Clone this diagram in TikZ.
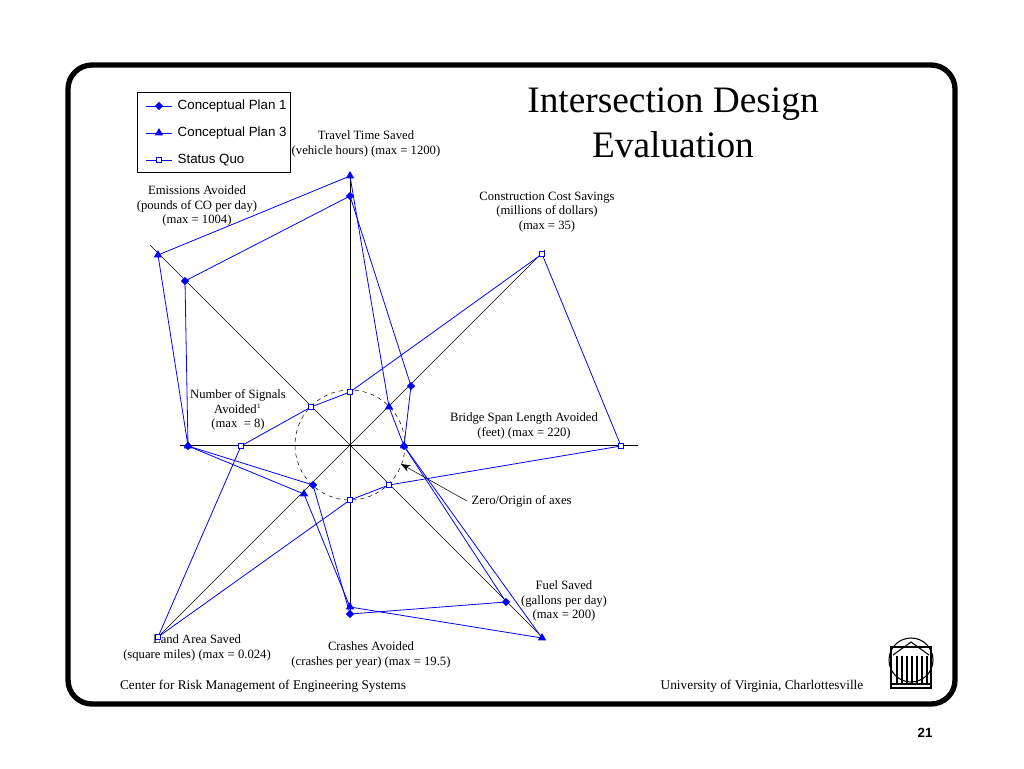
\documentclass[tikz,border=0pt]{standalone}
\usepackage{fontspec}
\setmainfont{Liberation Serif}
\setsansfont{Liberation Sans}
\usetikzlibrary{arrows.meta}
\tikzset{
  lbl/.style={font=\fontsize{9.5}{11}\selectfont, align=center},
  plan/.style={blue, line width=0.6pt},
  dmark/.style={diamond, fill=blue, inner sep=1.6pt},
  tmark/.style={regular polygon, regular polygon sides=3, fill=blue, inner sep=1.3pt},
  smark/.style={draw=blue, fill=white, inner sep=1.8pt, line width=0.5pt},
}
\usetikzlibrary{shapes.geometric}
\begin{document}
\begin{tikzpicture}[x=0.75pt,y=-0.75pt]
\useasboundingbox (0,0) rectangle (1024,768);
\draw[line width=4pt, rounded corners=18pt] (68,65) rectangle (955,704);

% title and footer
\node[font=\fontsize{28}{34}\selectfont, align=center] (title) at (673,123) {Intersection Design\\Evaluation};
\node[font=\fontsize{10}{12}\selectfont] (left) at (263,686) {Center for Risk Management of Engineering Systems};
\node[font=\fontsize{10}{12}\selectfont] (right) at (762,686) {University of Virginia, Charlottesville};
\node[font=\sffamily\bfseries\fontsize{10}{12}\selectfont] (page) at (925,733) {21};

% logo
\draw[line width=0.8pt] (911,660) circle (22);
\draw[line width=0.8pt] (891,647) rectangle (931,688);
\draw[line width=0.8pt] (893,655) -- (911,642) -- (929,655);
\foreach \x in {897,902,...,927} \draw[line width=0.8pt] (\x,656) -- (\x,683);
\draw[line width=1.5pt] (891,684) -- (931,684);

% axes
\coordinate (O) at (350,445);
\draw (350,172) -- (350,612);
\draw (180,445) -- (638,445);
\draw (158,637) -- (545,250);
\draw (150,245) -- (545,640);
\draw[dashed] (O) circle (55);

% plans
\draw[plan] (350,196) -- (411,386) -- (404,446) -- (506,602) -- (350,614) -- (313,485) -- (188,446) -- (185,281) -- cycle;
\draw[plan] (350,176) -- (389,407) -- (404,446) -- (542,638) -- (350,607) -- (304,494) -- (188,446) -- (158,255) -- cycle;
\draw[plan] (350,392) -- (542,254) -- (621,446) -- (389,485) -- (350,500) -- (158,637) -- (241,446) -- (311,407) -- cycle;
\foreach \p in {(350,196),(411,386),(404,446),(506,602),(350,614),(313,485),(188,446),(185,281)}
  \node[dmark] at \p {};
\foreach \p in {(350,176),(389,407),(404,446),(542,638),(350,607),(304,494),(188,446),(158,255)}
  \node[tmark] at \p {};
\foreach \p in {(350,392),(542,254),(621,446),(389,485),(350,500),(158,637),(241,446),(311,407)}
  \node[smark] at \p {};

% axis labels
\node[lbl] (travel) at (366,144) {Travel Time Saved\\(vehicle hours) (max = 1200)};
\node[lbl] (cost) at (547,212) {Construction Cost Savings\\(millions of dollars)\\(max = 35)};
\node[lbl] (bridge) at (524,426) {Bridge Span Length Avoided\\(feet) (max = 220)};
\node[lbl] (fuel) at (564,601) {Fuel Saved\\(gallons per day)\\(max = 200)};
\node[lbl] (crash) at (371,655) {Crashes Avoided\\(crashes per year) (max = 19.5)};
\node[lbl] (land) at (197,648) {Land Area Saved\\(square miles) (max = 0.024)};
\node[lbl] (signals) at (238,410) {Number of Signals\\Avoided$^{\scriptscriptstyle 1}$\\(max \ = 8)};
\node[lbl] (emis) at (197,206) {Emissions Avoided\\(pounds of CO per day)\\(max = 1004)};
\node[lbl, anchor=west] (zero) at (467,501) {Zero/Origin of axes};
\draw[-{Stealth[length=7pt]}] (zero.west) -- (401,464);

% legend
\draw[fill=white] (137,92) rectangle (290,172);
\foreach \y/\m/\t in {106/dmark/Conceptual Plan 1, 133/tmark/Conceptual Plan 3, 160/smark/Status Quo}
{ \draw[plan] (146,\y) -- (172,\y);
  \node[\m] at (159,\y) {};
  \node[anchor=west, font=\sffamily\fontsize{10}{12}\selectfont] at (173,\y) {\t};
}
\end{tikzpicture}
\end{document}
